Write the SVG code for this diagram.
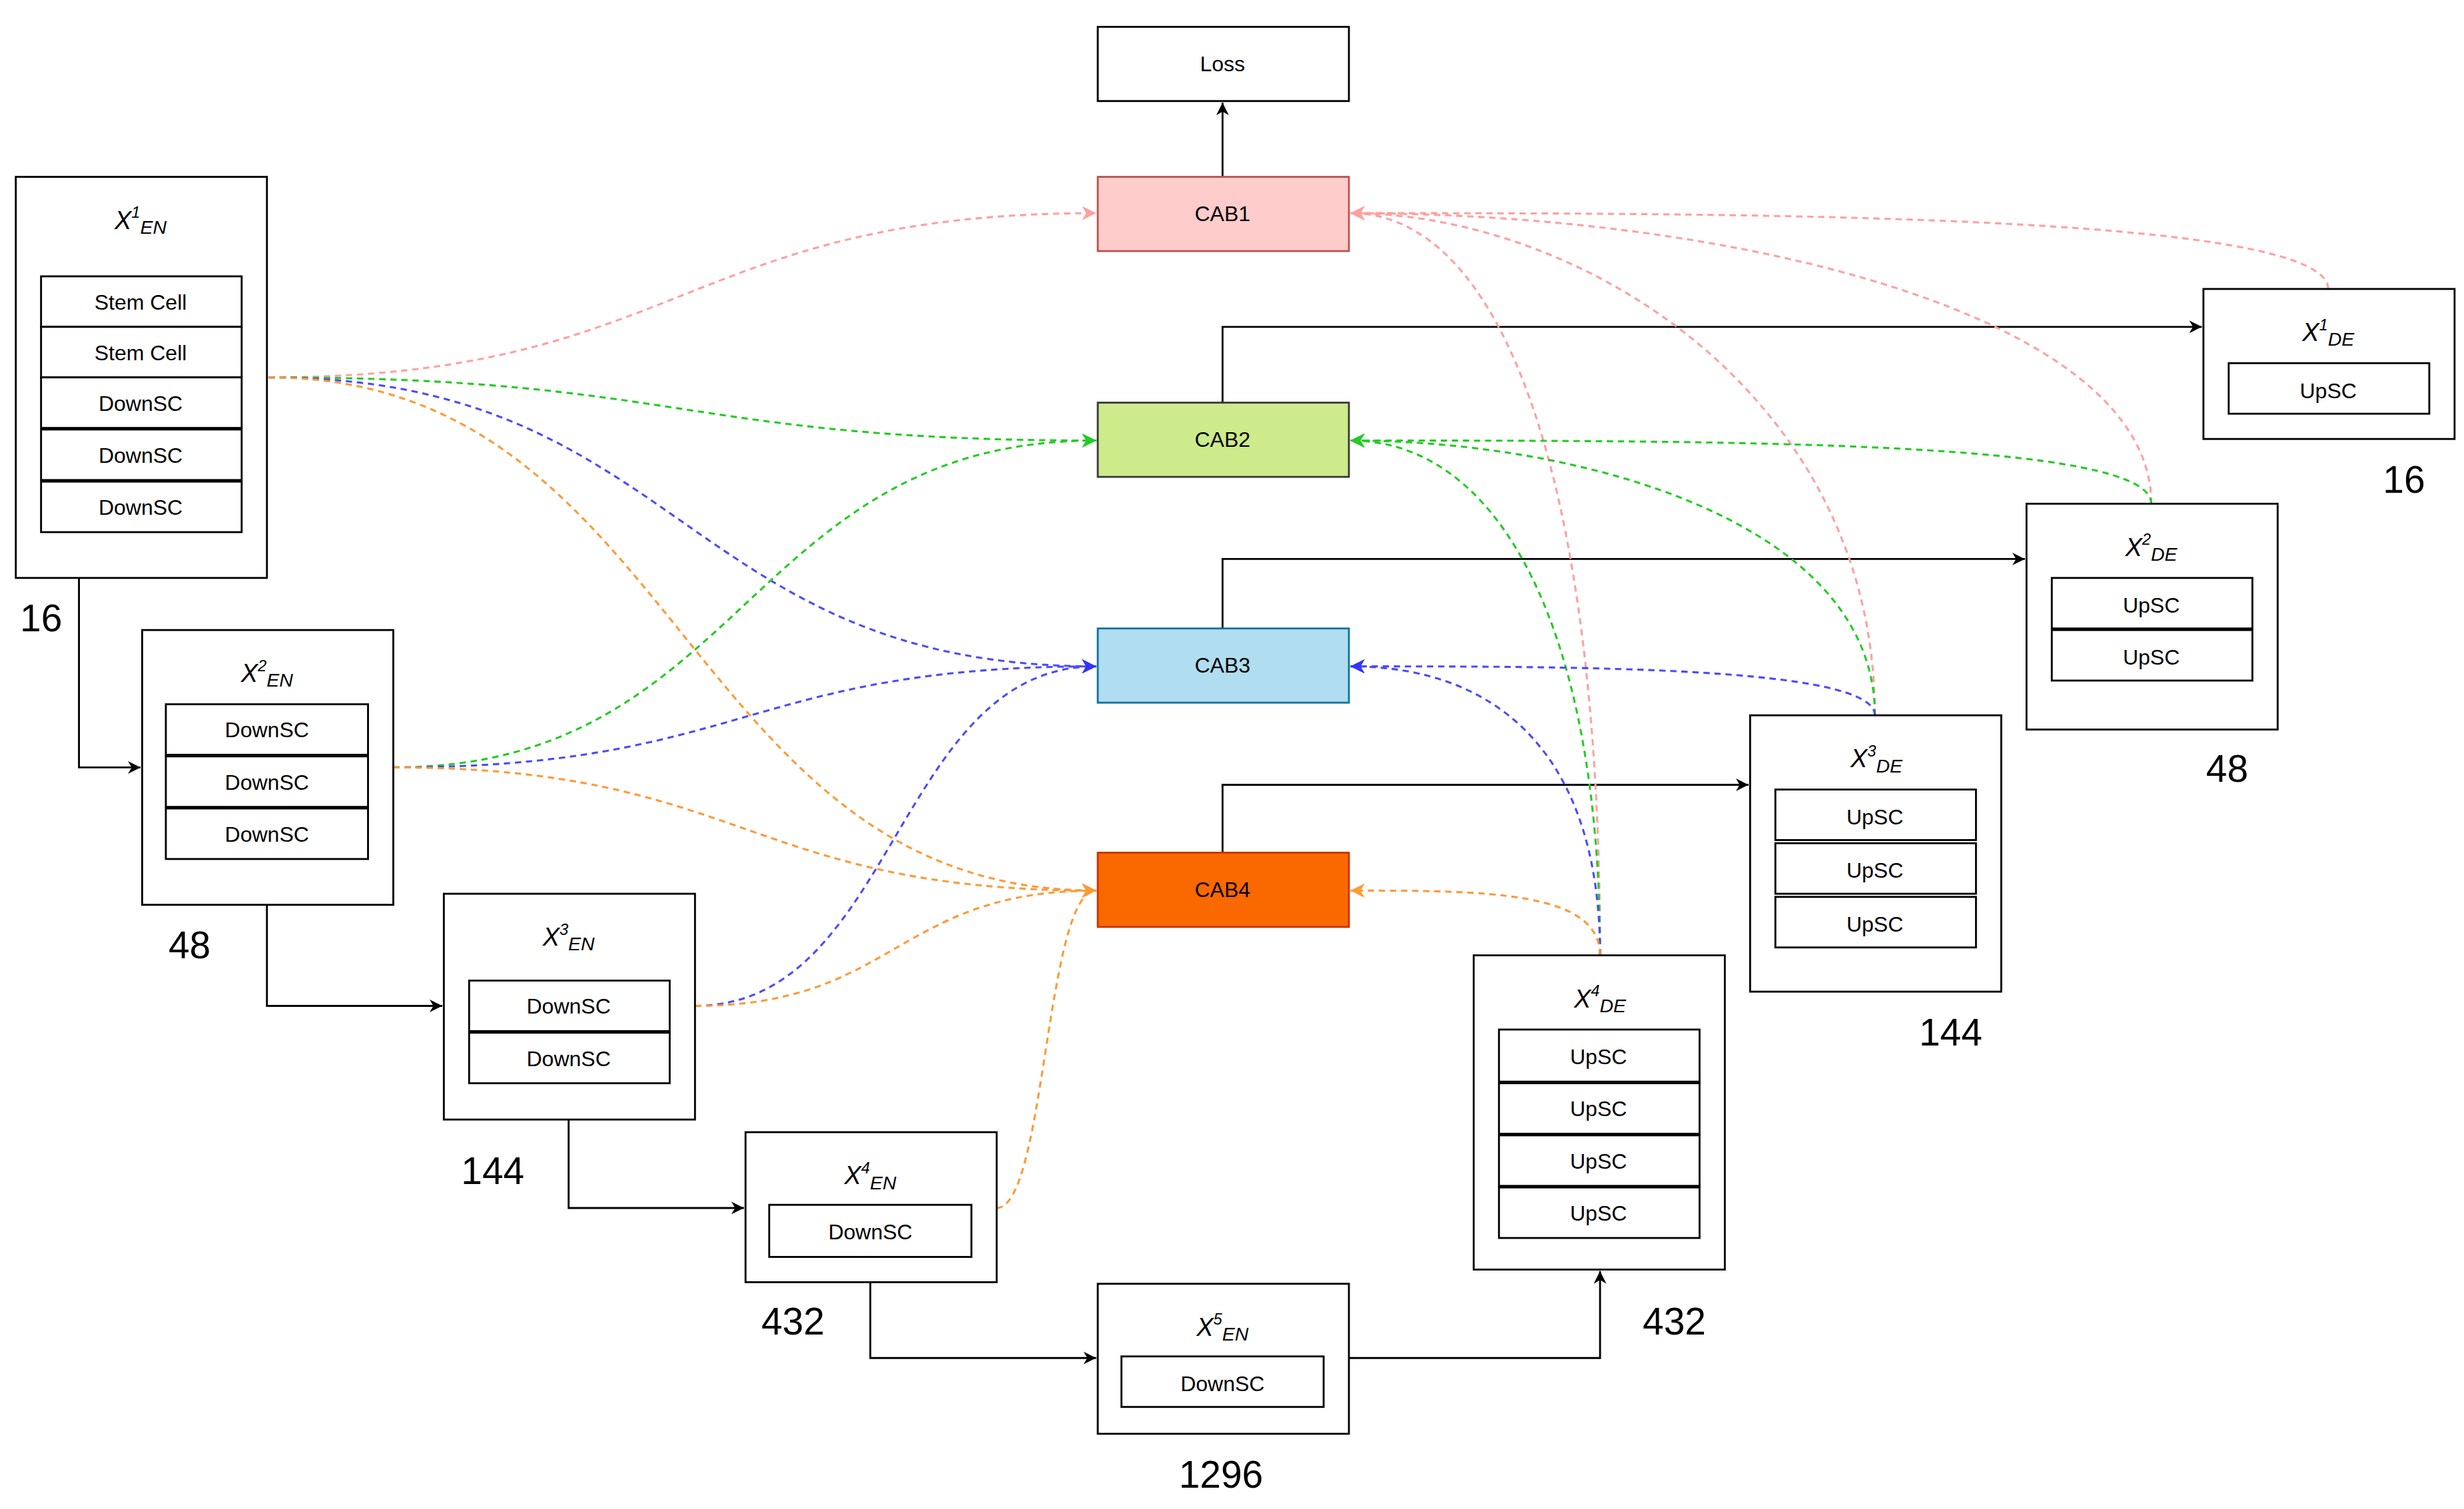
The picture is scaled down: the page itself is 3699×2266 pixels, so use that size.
<svg xmlns="http://www.w3.org/2000/svg" width="3699" height="2266" viewBox="0 0 3699 2266">
<style>
.b{fill:#fff;stroke:#000;stroke-width:1.2}
.i{fill:#fff;stroke:#000;stroke-width:1.2}
text{font-family:"Liberation Sans",Arial,sans-serif;fill:#000}
.l{font-size:13.5px;text-anchor:middle}
.t{font-size:16px;font-style:italic;text-anchor:middle}
.n{font-size:24px;text-anchor:middle}
.k{fill:none;stroke:#000;stroke-width:1.2}
.d{fill:none;stroke-width:1.3;stroke-dasharray:4 3}
.p{stroke:#ff9f9f}.g{stroke:#22cc22}.u{stroke:#4a4aff}.o{stroke:#ff9933}
</style>
<defs>
<marker id="ak" viewBox="0 0 10 10" refX="10" refY="5" markerWidth="8" markerHeight="8" markerUnits="userSpaceOnUse" orient="auto"><path d="M0,0L10,5L0,10L3,5z" fill="#000"/></marker>
<marker id="ap" viewBox="0 0 10 10" refX="10" refY="5" markerWidth="9" markerHeight="9" markerUnits="userSpaceOnUse" orient="auto"><path d="M0,0L10,5L0,10L3,5z" fill="#ff9f9f"/></marker>
<marker id="ag" viewBox="0 0 10 10" refX="10" refY="5" markerWidth="9" markerHeight="9" markerUnits="userSpaceOnUse" orient="auto"><path d="M0,0L10,5L0,10L3,5z" fill="#22cc22"/></marker>
<marker id="au" viewBox="0 0 10 10" refX="10" refY="5" markerWidth="9" markerHeight="9" markerUnits="userSpaceOnUse" orient="auto"><path d="M0,0L10,5L0,10L3,5z" fill="#3333ff"/></marker>
<marker id="ao" viewBox="0 0 10 10" refX="10" refY="5" markerWidth="9" markerHeight="9" markerUnits="userSpaceOnUse" orient="auto"><path d="M0,0L10,5L0,10L3,5z" fill="#ff9933"/></marker>
</defs>
<rect width="3699" height="2266" fill="#fff"/>
<g transform="scale(2.3712)">
<g id="connectors">
<path class="k" d="M774,112V65" marker-end="url(#ak)"/>
<path class="k" d="M774,255V207H1394" marker-end="url(#ak)"/>
<path class="k" d="M774,398V354H1282" marker-end="url(#ak)"/>
<path class="k" d="M774,540V497H1107" marker-end="url(#ak)"/>
<path class="k" d="M50,366V486H89" marker-end="url(#ak)"/>
<path class="k" d="M169,573V637H280" marker-end="url(#ak)"/>
<path class="k" d="M360,709V765H471" marker-end="url(#ak)"/>
<path class="k" d="M551,812V860H694" marker-end="url(#ak)"/>
<path class="k" d="M854,860H1013V805" marker-end="url(#ak)"/>
<path class="d p" d="M170,239C432,239 432,135 694,135" marker-end="url(#ap)"/>
<path class="d g" d="M170,239C432,239 432,279 694,279" marker-end="url(#ag)"/>
<path class="d u" d="M170,239C432,239 432,422 694,422" marker-end="url(#au)"/>
<path class="d o" d="M170,239C432,239 432,564 694,564" marker-end="url(#ao)"/>
<path class="d g" d="M249,486C472,486 472,279 694,279" marker-end="url(#ag)"/>
<path class="d u" d="M249,486C472,486 472,422 694,422" marker-end="url(#au)"/>
<path class="d o" d="M249,486C472,486 472,564 694,564" marker-end="url(#ao)"/>
<path class="d u" d="M440,637C567,637 567,422 694,422" marker-end="url(#au)"/>
<path class="d o" d="M440,637C567,637 567,564 694,564" marker-end="url(#ao)"/>
<path class="d o" d="M631,765C662,765 662,564 694,564" marker-end="url(#ao)"/>
<path class="d p" d="M1474,183C1474,135 1100,135 855,135" marker-end="url(#ap)"/>
<path class="d p" d="M1362,319C1362,200 1100,135 855,135" marker-end="url(#ap)"/>
<path class="d p" d="M1187,453C1187,250 1000,135 855,135" marker-end="url(#ap)"/>
<path class="d p" d="M1013,605C1013,300 950,135 855,135" marker-end="url(#ap)"/>
<path class="d g" d="M1362,319C1362,279 1100,279 855,279" marker-end="url(#ag)"/>
<path class="d g" d="M1187,453C1187,330 1000,279 855,279" marker-end="url(#ag)"/>
<path class="d g" d="M1013,605C1013,400 950,279 855,279" marker-end="url(#ag)"/>
<path class="d u" d="M1187,453C1187,422 1000,422 855,422" marker-end="url(#au)"/>
<path class="d u" d="M1013,605C1013,480 950,422 855,422" marker-end="url(#au)"/>
<path class="d o" d="M1013,605C1013,564 940,564 855,564" marker-end="url(#ao)"/>
</g>
<g id="loss"><rect class="b" x="695" y="17" width="159" height="47"/><text class="l" x="774" y="45">Loss</text></g>
<g id="cab1"><rect x="695" y="112" width="159" height="47" fill="#ffcccc" stroke="#b85450" stroke-width="1.2"/><text class="l" x="774" y="140">CAB1</text></g>
<g id="cab2"><rect x="695" y="255" width="159" height="47" fill="#cdeb8b" stroke="#36393d" stroke-width="1.2"/><text class="l" x="774" y="283">CAB2</text></g>
<g id="cab3"><rect x="695" y="398" width="159" height="47" fill="#b1ddf0" stroke="#10739e" stroke-width="1.2"/><text class="l" x="774" y="426">CAB3</text></g>
<g id="cab4"><rect x="695" y="540" width="159" height="47" fill="#fa6800" stroke="#c73500" stroke-width="1.2"/><text class="l" x="774" y="568">CAB4</text></g>
<g id="x1en"><rect class="b" x="10" y="112" width="159" height="254"/>
<text class="t" x="89" y="145">X<tspan dy="-7" font-size="10">1</tspan><tspan dy="10" font-size="12">EN</tspan></text>
<rect class="i" x="26" y="175" width="127" height="32"/><text class="l" x="89" y="196">Stem Cell</text>
<rect class="i" x="26" y="207" width="127" height="32"/><text class="l" x="89" y="228">Stem Cell</text>
<rect class="i" x="26" y="239" width="127" height="32"/><text class="l" x="89" y="260">DownSC</text>
<rect class="i" x="26" y="272" width="127" height="32"/><text class="l" x="89" y="293">DownSC</text>
<rect class="i" x="26" y="305" width="127" height="32"/><text class="l" x="89" y="326">DownSC</text>
<text class="n" x="26" y="400">16</text></g>
<g id="x2en"><rect class="b" x="90" y="399" width="159" height="174"/>
<text class="t" x="169" y="432">X<tspan dy="-7" font-size="10">2</tspan><tspan dy="10" font-size="12">EN</tspan></text>
<rect class="i" x="105" y="446" width="128" height="32"/><text class="l" x="169" y="467">DownSC</text>
<rect class="i" x="105" y="479" width="128" height="32"/><text class="l" x="169" y="500">DownSC</text>
<rect class="i" x="105" y="512" width="128" height="32"/><text class="l" x="169" y="533">DownSC</text>
<text class="n" x="120" y="607">48</text></g>
<g id="x3en"><rect class="b" x="281" y="566" width="159" height="143"/>
<text class="t" x="360" y="599">X<tspan dy="-7" font-size="10">3</tspan><tspan dy="10" font-size="12">EN</tspan></text>
<rect class="i" x="297" y="621" width="127" height="32"/><text class="l" x="360" y="642">DownSC</text>
<rect class="i" x="297" y="654" width="127" height="32"/><text class="l" x="360" y="675">DownSC</text>
<text class="n" x="312" y="750">144</text></g>
<g id="x4en"><rect class="b" x="472" y="717" width="159" height="95"/>
<text class="t" x="551" y="750">X<tspan dy="-7" font-size="10">4</tspan><tspan dy="10" font-size="12">EN</tspan></text>
<rect class="i" x="487" y="763" width="128" height="33"/><text class="l" x="551" y="785">DownSC</text>
<text class="n" x="502" y="845">432</text></g>
<g id="x5en"><rect class="b" x="695" y="813" width="159" height="95"/>
<text class="t" x="774" y="846">X<tspan dy="-7" font-size="10">5</tspan><tspan dy="10" font-size="12">EN</tspan></text>
<rect class="i" x="710" y="859" width="128" height="32"/><text class="l" x="774" y="881">DownSC</text>
<text class="n" x="773" y="942">1296</text></g>
<g id="x4de"><rect class="b" x="933" y="605" width="159" height="199"/>
<text class="t" x="1013" y="638">X<tspan dy="-7" font-size="10">4</tspan><tspan dy="10" font-size="12">DE</tspan></text>
<rect class="i" x="949" y="652" width="127" height="33"/><text class="l" x="1012" y="674">UpSC</text>
<rect class="i" x="949" y="686" width="127" height="32"/><text class="l" x="1012" y="707">UpSC</text>
<rect class="i" x="949" y="719" width="127" height="32"/><text class="l" x="1012" y="740">UpSC</text>
<rect class="i" x="949" y="752" width="127" height="32"/><text class="l" x="1012" y="773">UpSC</text>
<text class="n" x="1060" y="845">432</text></g>
<g id="x3de"><rect class="b" x="1108" y="453" width="159" height="175"/>
<text class="t" x="1188" y="486">X<tspan dy="-7" font-size="10">3</tspan><tspan dy="10" font-size="12">DE</tspan></text>
<rect class="i" x="1124" y="500" width="127" height="32"/><text class="l" x="1187" y="522">UpSC</text>
<rect class="i" x="1124" y="534" width="127" height="32"/><text class="l" x="1187" y="556">UpSC</text>
<rect class="i" x="1124" y="568" width="127" height="32"/><text class="l" x="1187" y="590">UpSC</text>
<text class="n" x="1235" y="662">144</text></g>
<g id="x2de"><rect class="b" x="1283" y="319" width="159" height="143"/>
<text class="t" x="1362" y="352">X<tspan dy="-7" font-size="10">2</tspan><tspan dy="10" font-size="12">DE</tspan></text>
<rect class="i" x="1299" y="366" width="127" height="32"/><text class="l" x="1362" y="388">UpSC</text>
<rect class="i" x="1299" y="399" width="127" height="32"/><text class="l" x="1362" y="421">UpSC</text>
<text class="n" x="1410" y="495">48</text></g>
<g id="x1de"><rect class="b" x="1395" y="183" width="159" height="95"/>
<text class="t" x="1474" y="216">X<tspan dy="-7" font-size="10">1</tspan><tspan dy="10" font-size="12">DE</tspan></text>
<rect class="i" x="1411" y="230" width="127" height="32"/><text class="l" x="1474" y="252">UpSC</text>
<text class="n" x="1522" y="312">16</text></g>
</g>
</svg>
